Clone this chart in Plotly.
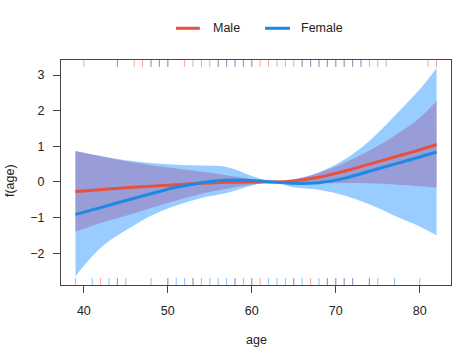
import plotly.graph_objects as go

# ---- data ----
ages = [39, 42, 45, 48, 51, 54, 57, 60, 62.5, 65, 68, 71, 74, 77, 80, 82]

male_fit   = [-0.27, -0.22, -0.16, -0.12, -0.08, -0.04, -0.01, 0.00, 0.00, 0.03, 0.13, 0.30, 0.50, 0.70, 0.90, 1.05]
male_upper = [0.86, 0.72, 0.58, 0.47, 0.38, 0.29, 0.19, 0.08, 0.00, 0.07, 0.25, 0.53, 0.88, 1.30, 1.80, 2.28]
male_lower = [-1.40, -1.15, -0.95, -0.73, -0.52, -0.33, -0.19, -0.07, 0.00, -0.04, -0.04, -0.03, -0.04, -0.07, -0.12, -0.16]

female_fit   = [-0.91, -0.72, -0.52, -0.33, -0.15, -0.02, 0.05, 0.04, 0.00, -0.04, -0.02, 0.10, 0.30, 0.50, 0.70, 0.84]
female_upper = [0.87, 0.73, 0.61, 0.53, 0.48, 0.46, 0.42, 0.17, 0.00, 0.07, 0.27, 0.62, 1.15, 1.85, 2.60, 3.19]
female_lower = [-2.65, -1.85, -1.36, -0.95, -0.66, -0.45, -0.31, -0.10, 0.00, -0.15, -0.22, -0.38, -0.63, -0.95, -1.25, -1.50]

male_rug_top = [40, 44, 46, 47, 48, 49, 50, 52, 54, 56, 57, 58, 59, 60, 61, 62, 63,
                66, 67, 68, 69, 70, 71, 72, 73, 74, 81, 82]
female_rug_top = [44, 48, 49, 50, 53, 55, 56, 57, 58, 59, 60, 64, 65, 66, 67, 68, 69,
                  70, 71, 72, 73, 75, 76]
male_rug_bottom = [39, 42, 44, 50, 53, 58, 60, 61, 65, 67, 69, 70, 71, 72, 74, 80]
female_rug_bottom = [41, 43, 44, 45, 48, 50, 51, 52, 53, 54, 55, 56, 57, 58, 59, 60, 62,
                     63, 64, 65, 66, 68, 69, 70, 71, 72, 74, 75, 77]

x_ticks = [40, 50, 60, 70, 80]
y_ticks = [-2, -1, 0, 1, 2, 3]
series_names = ["Male", "Female"]

RED = "#E8503C"
BLUE = "#1E88E5"
FONT = "Liberation Sans, Arial, Helvetica, sans-serif"
AXC = "#444444"
FS = 12.5

fig = go.Figure()


def add_band(lower, upper, fillcolor):
    fig.add_trace(go.Scatter(x=ages, y=lower, mode="lines",
                             line=dict(width=0, shape="spline"),
                             hoverinfo="skip", showlegend=False))
    fig.add_trace(go.Scatter(x=ages, y=upper, mode="lines",
                             line=dict(width=0, shape="spline"),
                             fill="tonexty", fillcolor=fillcolor,
                             hoverinfo="skip", showlegend=False))


add_band(male_lower, male_upper, "rgba(255,120,140,0.7)")
add_band(female_lower, female_upper, "rgba(51,153,255,0.5)")

fig.add_trace(go.Scatter(x=ages, y=male_fit, mode="lines", name=series_names[0],
                         line=dict(color=RED, width=3, shape="spline"), showlegend=False))
fig.add_trace(go.Scatter(x=ages, y=female_fit, mode="lines", name=series_names[1],
                         line=dict(color=BLUE, width=3, shape="spline"), showlegend=False))


def add_rug(vals, y0, y1, color):
    xs, ys = [], []
    for v in vals:
        xs += [v, v, None]
        ys += [y0, y1, None]
    fig.add_trace(go.Scatter(x=xs, y=ys, yaxis="y2", mode="lines",
                             line=dict(color=color, width=1),
                             hoverinfo="skip", showlegend=False))


RUG = 0.031
add_rug(male_rug_top, 1, 1 - RUG, "rgba(232,80,60,0.5)")
add_rug(female_rug_top, 1, 1 - RUG, "rgba(30,136,229,0.5)")
add_rug(male_rug_bottom, 0, RUG, "rgba(232,80,60,0.5)")
add_rug(female_rug_bottom, 0, RUG, "rgba(30,136,229,0.5)")

# legend drawn manually (R-style)
legend_items = [(series_names[0], RED, 0.295, 0.356, 0.385),
                (series_names[1], BLUE, 0.523, 0.587, 0.610)]
for name, col, x0, x1, xt in legend_items:
    fig.add_shape(type="line", xref="paper", yref="paper", x0=x0, x1=x1,
                  y0=1.141, y1=1.141, line=dict(color=col, width=3))
    fig.add_annotation(xref="paper", yref="paper", x=xt, y=1.141, text=name,
                       showarrow=False, xanchor="left", yanchor="middle",
                       font=dict(size=FS, color="#222", family=FONT))

fig.add_annotation(xref="paper", yref="paper", x=0.5, y=-0.244, text="age",
                   showarrow=False, xanchor="center", yanchor="middle",
                   font=dict(size=FS, color="#222", family=FONT))
fig.add_annotation(xref="paper", yref="paper", x=-0.131, y=0.466, text="f(age)",
                   showarrow=False, xanchor="center", yanchor="middle", textangle=-90,
                   font=dict(size=FS, color="#222", family=FONT))

axis_common = dict(showgrid=False, zeroline=False, showline=True, linecolor=AXC,
                   linewidth=1, mirror=True, ticks="outside", ticklen=7,
                   tickcolor=AXC, tickwidth=1,
                   tickfont=dict(size=FS, color="#222", family=FONT))

fig.update_layout(
    width=474, height=355,
    margin=dict(l=61, r=23, t=60, b=70),
    paper_bgcolor="white", plot_bgcolor="white",
    xaxis=dict(range=[37.28, 83.72], tickvals=x_ticks, ticklabelstandoff=7, **axis_common),
    yaxis=dict(range=[-2.894, 3.424], tickvals=y_ticks, ticklabelstandoff=6, **axis_common),
    yaxis2=dict(overlaying="y", range=[0, 1], visible=False),
    showlegend=False,
    font=dict(family=FONT),
)

fig.write_html("out.html")
